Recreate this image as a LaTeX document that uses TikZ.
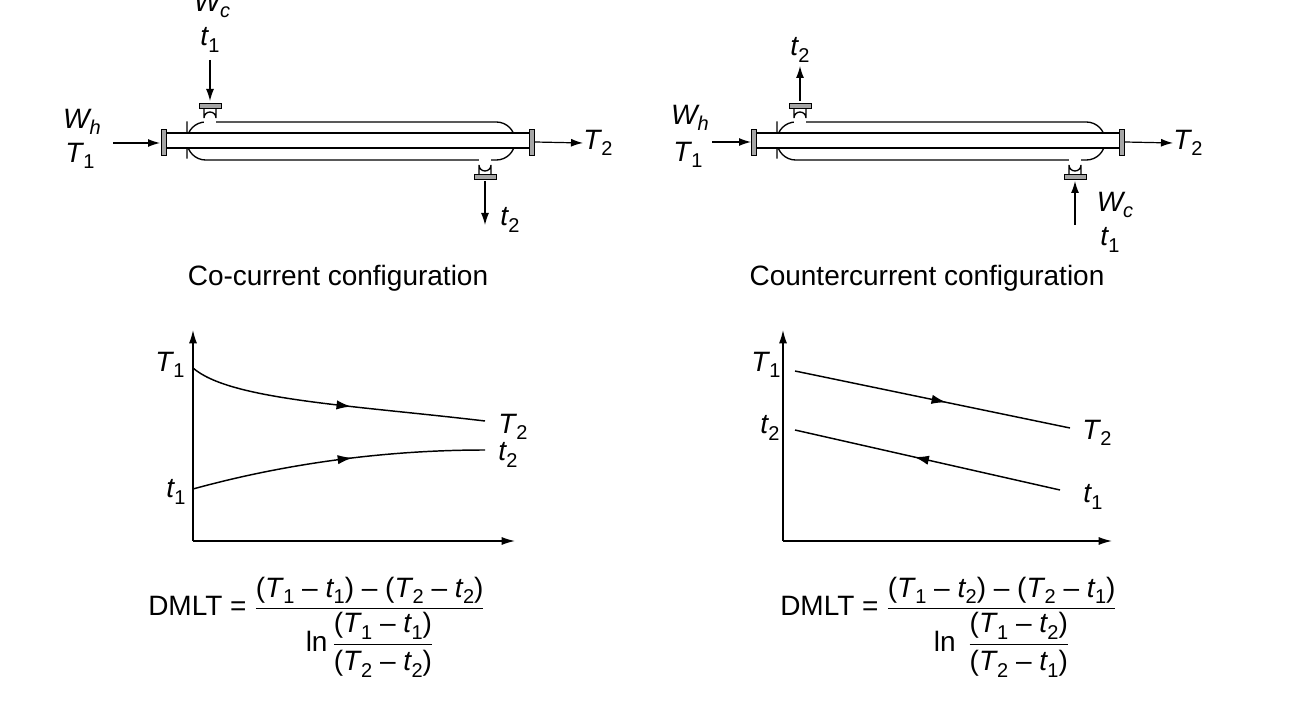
\documentclass[tikz,border=0pt]{standalone}
\usepackage{fontspec}
\usepackage{amsmath}
\setmainfont{Liberation Sans}
\usetikzlibrary{arrows.meta,decorations.markings}
\newcommand\vv[2]{\textit{#1}\kern-0.5pt\raisebox{-0.45ex}{\fontsize{15}{16}\selectfont #2}}
\begin{document}
\begin{tikzpicture}[x=0.75pt,y=-0.75pt,
  lbl/.style={font=\fontsize{21}{24}\selectfont,inner sep=0pt},
  pipe/.style={line width=1pt},
  arr/.style={line width=0.9pt,-{Latex[length=9pt,width=6pt]}},
  flange/.style={fill=gray!70,draw=black,line width=0.5pt},
  curve/.style={line width=1.1pt,postaction={decorate},decoration={markings,mark=at position 0.55 with {\arrow{Latex[length=11pt,width=7pt]}}}},
  rcurve/.style={line width=1.1pt,postaction={decorate},decoration={markings,mark=at position 0.45 with {\arrowreversed{Latex[length=11pt,width=7pt]}}}},
  axis/.style={line width=1pt,-{Latex[length=10pt,width=6pt]}}]
\useasboundingbox (0,0) rectangle (1315,706);
\foreach \o in {0,590}{
  \begin{scope}[xshift=\o*0.75pt]
  \draw[pipe,rounded corners=14] (187,140) -- (187,122) -- (515,122) -- (515,160) -- (187,160) -- cycle;
  \fill[white] (165,133) rectangle (530,148);
  \draw[pipe] (165,133) -- (530,133) (165,148) -- (530,148);
  \draw[flange] (161,129) rectangle (166,155);
  \draw[flange] (529,129) rectangle (534,155);
  \fill[white] (204,108) rectangle (216,123);
  \draw[pipe] (204,108) -- (204,118) arc(180:360:6) -- (216,108);
  \draw[flange] (199,103) rectangle (221,108);
  \fill[white] (479,159) rectangle (491,174);
  \draw[pipe] (479,174) -- (479,165) arc(180:0:6) -- (491,174);
  \draw[flange] (474,174) rectangle (496,179);
  \end{scope}}
% left labels
\node[lbl] (wc1) at (212,5) {\textit{W\raisebox{-0.4ex}{\fontsize{15}{16}\selectfont c}}};
\node[lbl] (t1a) at (210,40) {\vv t1};
\coordinate (n1) at (210,101);
\draw[arr] (210,60) -- (n1);
\node[lbl] (wh1) at (82,122) {\textit{W\raisebox{-0.4ex}{\fontsize{15}{16}\selectfont h}}};
\node[lbl] (T1a) at (80,156) {\vv T1};
\coordinate (f1) at (160,143);
\draw[arr] (113,143) -- (f1);
\coordinate (f2) at (535,142);
\node[lbl,anchor=west] (T2a) at (583,143) {\vv T2};
\draw[arr] (f2) -- (T2a.west);
\coordinate (n2) at (485,181);
\node[lbl] (t2a) at (510,220) {\vv t2};
\draw[arr] (n2) -- (485,225);
\node[lbl] (cap1) at (338,278) {Co-current configuration};
% right labels
\coordinate (n3) at (800,101);
\node[lbl] (t2b) at (800,50) {\vv t2};
\draw[arr] (n3) -- (800,66);
\node[lbl] (wh2) at (690,118) {\textit{W\raisebox{-0.4ex}{\fontsize{15}{16}\selectfont h}}};
\node[lbl] (T1b) at (688,155) {\vv T1};
\coordinate (f3) at (751,142);
\draw[arr] (712,142) -- (f3);
\coordinate (f4) at (1125,142);
\node[lbl,anchor=west] (T2b) at (1173,143) {\vv T2};
\draw[arr] (f4) -- (T2b.west);
\coordinate (n4) at (1075,181);
\draw[arr] (1075,225) -- (n4);
\node[lbl] (wc2) at (1115,205) {\textit{W\raisebox{-0.4ex}{\fontsize{15}{16}\selectfont c}}};
\node[lbl] (t1b) at (1110,240) {\vv t1};
\node[lbl] (cap2) at (927,278) {Countercurrent configuration};
% left graph
\coordinate (o1) at (193,541);
\draw[axis] (o1) -- (193,330);
\draw[axis] (o1) -- (515,541);
\draw[curve] (193,368) .. controls (230,400) and (350,405) .. (485,421);
\draw[curve] (193,489) .. controls (280,465) and (380,450) .. (485,450);
\node[lbl] at (170,365) {\vv T1};
\node[lbl] at (176,492) {\vv t1};
\node[lbl] at (513,427) {\vv T2};
\node[lbl] at (508,455) {\vv t2};
% right graph
\coordinate (o2) at (783,541);
\draw[axis] (o2) -- (783,330);
\draw[axis] (o2) -- (1112,541);
\draw[curve] (795,371) -- (1070,428);
\draw[rcurve] (795,430) -- (1060,490);
\node[lbl] at (766,365) {\vv T1};
\node[lbl] at (770,428) {\vv t2};
\node[lbl] at (1097,433) {\vv T2};
\node[lbl] at (1093,497) {\vv t1};
% formulas
\node[lbl,anchor=west] (d1) at (148,627) {DMLT = $\dfrac{\text{(\vv T1 -- \vv t1) -- (\vv T2 -- \vv t2)}}{\text{ln\,$\dfrac{\text{(\vv T1 -- \vv t1)}}{\text{(\vv T2 -- \vv t2)}}$}}$};
\node[lbl,anchor=west] (d2) at (780,627) {DMLT = $\dfrac{\text{(\vv T1 -- \vv t2) -- (\vv T2 -- \vv t1)}}{\text{ln\;\,$\dfrac{\text{(\vv T1 -- \vv t2)}}{\text{(\vv T2 -- \vv t1)}}$}}$};
\end{tikzpicture}
\end{document}
